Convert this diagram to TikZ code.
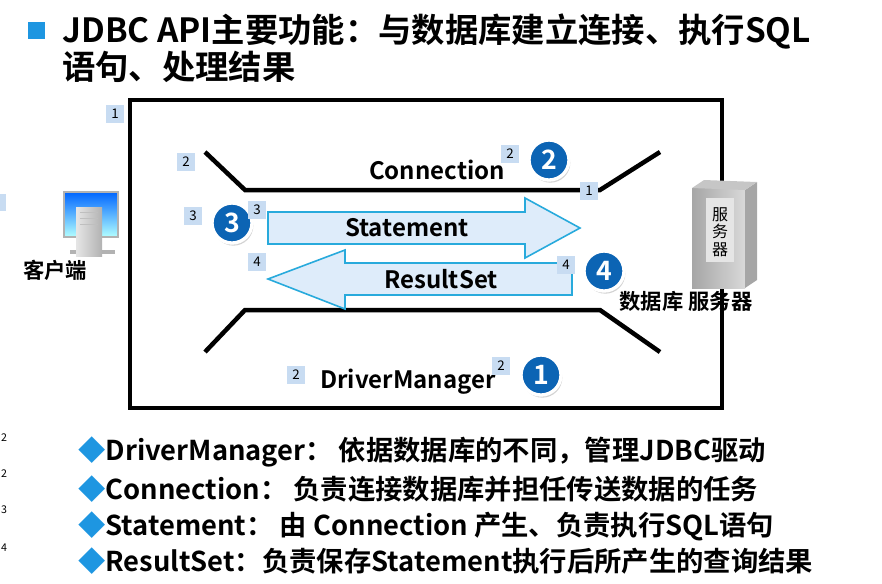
\documentclass[tikz,border=0pt]{standalone}
\usepackage{fontspec}
\setmainfont{Noto Sans CJK SC}[BoldFont={Noto Sans CJK SC Bold}]
\usetikzlibrary{shadows}
\definecolor{lbl}{RGB}{200,220,242}
\definecolor{arrfill}{RGB}{222,236,250}
\definecolor{arrline}{RGB}{40,170,220}
\definecolor{circ}{RGB}{12,100,180}
\definecolor{sq}{RGB}{30,150,225}
\tikzset{
 tag/.style={fill=lbl,inner sep=0pt,minimum width=18pt*0.75,minimum height=18pt*0.75,font=\fontsize{10}{10}\selectfont},
 numc/.style={circle,fill=circ,draw=white,line width=2.5pt,minimum size=30pt,inner sep=0pt,text=white,font=\fontsize{20}{20}\selectfont\bfseries,drop shadow={opacity=0.35,shadow xshift=1pt,shadow yshift=-2pt}},
 wire/.style={line width=4.5pt*0.75},
 lab/.style={font=\fontsize{18}{18}\selectfont\bfseries,inner sep=0pt},
 bul/.style={anchor=west,inner sep=0pt,font=\fontsize{20.5}{20.5}\selectfont\bfseries},
}
\begin{document}
\begin{tikzpicture}[x=0.75pt,y=-0.75pt]
\useasboundingbox (0,0) rectangle (882,583);
% title
\fill[sq] (28,22) rectangle (45,39);
\node[anchor=west,inner sep=0pt,font=\fontsize{25}{25}\selectfont\bfseries] (t1) at (62,31) {JDBC API主要功能：与数据库建立连接、执行SQL};
\node[anchor=west,inner sep=0pt,font=\fontsize{25}{25}\selectfont\bfseries] (t2) at (62,67) {语句、处理结果};
% frame
\draw[line width=2.3pt] (130,100) rectangle (722,408);
% wires
\draw[wire] (205,152) -- (245,190) -- (600,190) -- (660,152);
\draw[wire] (205,352) -- (245,310) -- (600,310) -- (660,352);
% arrows
\draw[fill=arrfill,draw=arrline,line width=1.2pt] (268,212) -- (525,212) -- (525,198) -- (580,228) -- (525,258) -- (525,244) -- (268,244) -- cycle;
\draw[fill=arrfill,draw=arrline,line width=1.2pt] (572,263) -- (345,263) -- (345,250) -- (268,279) -- (345,309) -- (345,295) -- (572,295) -- cycle;
\node[lab] (conn) at (437,170) {Connection};
\node[lab] (stmt) at (407,228) {Statement};
\node[lab] (rs) at (441,279) {ResultSet};
\node[lab] (dm) at (408,382) {DriverManager};
% numbered circles
\node[numc] (c2) at (549,160) {2};
\node[numc] (c3) at (232,223) {3};
\node[numc] (c4) at (604,271) {4};
\node[numc] (c1) at (541,375) {1};
% tags
\node[tag] (g1) at (115,114) {1};
\node[tag] (g2) at (186,162) {2};
\node[tag] (g3) at (510,154) {2};
\node[tag] (g4) at (589,191) {1};
\node[tag] (g5) at (193,216) {3};
\node[tag] (g6) at (257,210) {3};
\node[tag] (g7) at (257,262) {4};
\node[tag] (g8) at (566,265) {4};
\node[tag] (g9) at (296,375) {2};
\node[tag] (g10) at (501,366) {2};
\fill[lbl] (0,194) rectangle (6,211);
\node[inner sep=0pt,font=\fontsize{8}{8}\selectfont] (e2) at (4,438) {2};
\node[inner sep=0pt,font=\fontsize{8}{8}\selectfont] (e3) at (4,474) {2};
\node[inner sep=0pt,font=\fontsize{8}{8}\selectfont] (e4) at (4,510) {3};
\node[inner sep=0pt,font=\fontsize{8}{8}\selectfont] (e5) at (4,548) {4};
% client computer
\shade[top color=blue!60!cyan,bottom color=cyan!30] (64,192) rectangle (118,237);
\draw[gray!60,line width=1pt] (64,192) rectangle (118,237);
\fill[gray!50] (85,237) rectangle (95,250);
\fill[gray!60] (70,250) rectangle (115,254);
\shade[left color=gray!20,right color=gray!60] (76,207) rectangle (102,256);
\draw[gray!50] (80,212) -- (98,212) (80,218) -- (98,218) (80,224)--(98,224);
\node[inner sep=0pt,font=\fontsize{16}{16}\selectfont\bfseries] (client) at (55,270) {客户端};
% server
\shade[left color=gray!70,right color=gray!30] (692,188) rectangle (745,288);
\fill[gray!70] (745,190) -- (757,182) -- (757,280) -- (745,288) -- cycle;
\fill[gray!45] (692,188) -- (704,180) -- (757,182) -- (745,190) -- cycle;
\fill[gray!20] (706,198) rectangle (734,262);
\node[inner sep=0pt,align=center,font=\fontsize{12}{13}\selectfont] (srvtxt) at (720,232) {服\\务\\器};
\node[inner sep=0pt,font=\fontsize{16}{16}\selectfont\bfseries] (server) at (686,301) {数据库 服务器};
% bullets
\node[bul] (b1) at (78,452) {\textcolor{sq}{◆}DriverManager： 依据数据库的不同，管理JDBC驱动};
\node[bul] (b2) at (78,489) {\textcolor{sq}{◆}Connection： 负责连接数据库并担任传送数据的任务};
\node[bul] (b3) at (78,526) {\textcolor{sq}{◆}Statement： 由 Connection 产生、负责执行SQL语句};
\node[bul] (b4) at (78,561) {\textcolor{sq}{◆}ResultSet：负责保存Statement执行后所产生的查询结果};
\end{tikzpicture}
\end{document}
